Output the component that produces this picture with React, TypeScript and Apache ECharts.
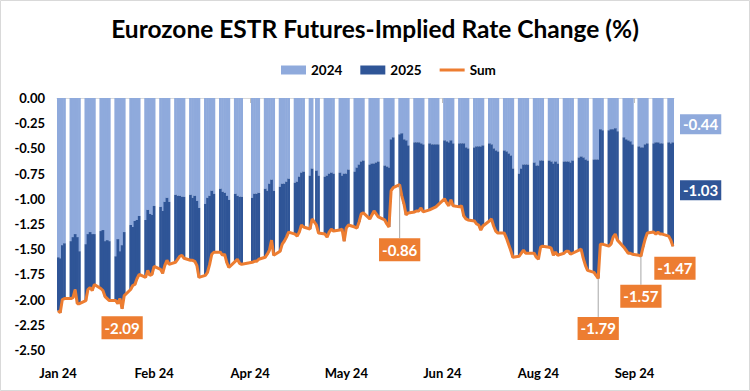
import React, { useEffect, useRef } from "react";
import * as echarts from "echarts";

// Calendar span of the date axis (trading days only carry values)
const START_DATE = "2024-01-02";
const END_DATE = "2024-10-16";
const HOLIDAYS = ["2024-03-29", "2024-04-01", "2024-05-01"];

// Tick labels, one every 45 calendar days starting at START_DATE
const X_TICK_LABELS = ["Jan 24", "Feb 24", "Apr 24", "May 24", "Jun 24", "Aug 24", "Sep 24"];
const Y_MIN = -2.5;
const Y_MAX = 0;
const Y_STEP = 0.25;

// Rate change priced for 2024, one value per trading day (in order)
const Y2024 = [
  -1.58, -1.59, -1.46, -1.44,
  -1.42, -1.38, -1.35, -1.38, -1.52,
  -1.45, -1.35, -1.33, -1.35, -1.35,
  -1.32, -1.31, -1.42, -1.41, -1.42,
  -1.57, -1.40, -1.52, -1.46, -1.33,
  -1.26, -1.28, -1.22, -1.21, -1.17,
  -1.21, -1.11, -1.15, -1.16, -1.07,
  -1.08, -1.12, -1.03, -0.99, -1.03,
  -0.96, -0.97, -0.97, -0.98, -0.98,
  -0.96, -0.99, -0.97, -1.02, -1.09,
  -1.05, -0.99, -0.97, -0.92, -0.95,
  -0.90, -0.93, -0.94, -0.97, -1.01,
  -0.95, -0.97, -0.98, -0.98,
  -0.99, -0.95, -0.95, -0.94,
  -0.90, -0.92, -0.85, -0.81, -0.92,
  -0.88, -0.85, -0.85, -0.83, -0.80,
  -0.84, -0.83, -0.78, -0.74, -0.73,
  -0.77, -0.70, -0.72, -0.77,
  -0.78, -0.77, -0.75, -0.74, -0.75,
  -0.74, -0.77, -0.75, -0.75, -0.71,
  -0.73, -0.69, -0.66, -0.63, -0.62,
  -0.66, -0.65, -0.65, -0.64, -0.63,
  -0.67, -0.68, -0.69, -0.41, -0.39,
  -0.36, -0.35, -0.41, -0.42, -0.47,
  -0.44, -0.44, -0.44, -0.45, -0.46,
  -0.45, -0.46, -0.46, -0.46, -0.46,
  -0.42, -0.43, -0.44, -0.42, -0.45,
  -0.45, -0.45, -0.45, -0.49, -0.50,
  -0.49, -0.48, -0.48, -0.48, -0.47,
  -0.45, -0.46, -0.50, -0.52, -0.53,
  -0.52, -0.53, -0.55, -0.57, -0.70,
  -0.75, -0.70, -0.66, -0.66, -0.66,
  -0.64, -0.67, -0.67, -0.62, -0.62,
  -0.62, -0.63, -0.65, -0.63, -0.65,
  -0.63, -0.63, -0.63, -0.64, -0.62,
  -0.59, -0.58, -0.59, -0.61, -0.62,
  -0.61, -0.61, -0.61, -0.31, -0.32,
  -0.32, -0.31, -0.31, -0.30, -0.33,
  -0.39, -0.41, -0.42, -0.43, -0.46,
  -0.48, -0.49, -0.49, -0.46, -0.45,
  -0.45, -0.44, -0.44, -0.45, -0.45,
  -0.44, -0.45, -0.44,
];

// Rate change priced for 2025, one value per trading day (in order)
const Y2025 = [
  -0.53, -0.54, -0.54, -0.55,
  -0.57, -0.60, -0.55, -0.66, -0.52,
  -0.56, -0.55, -0.55, -0.56, -0.50,
  -0.57, -0.60, -0.55, -0.58, -0.59,
  -0.44, -0.64, -0.47, -0.63, -0.63,
  -0.64, -0.58, -0.63, -0.58, -0.58,
  -0.57, -0.60, -0.61, -0.59, -0.60,
  -0.62, -0.62, -0.63, -0.62, -0.62,
  -0.67, -0.63, -0.60, -0.58, -0.61,
  -0.65, -0.62, -0.65, -0.64, -0.69,
  -0.71, -0.74, -0.68, -0.63, -0.58,
  -0.63, -0.63, -0.61, -0.66, -0.67,
  -0.67, -0.63, -0.66, -0.67,
  -0.64, -0.67, -0.67, -0.66,
  -0.68, -0.63, -0.66, -0.60, -0.64,
  -0.64, -0.60, -0.57, -0.55, -0.53,
  -0.51, -0.54, -0.55, -0.52, -0.55,
  -0.53, -0.50, -0.54, -0.57,
  -0.57, -0.61, -0.58, -0.56, -0.57,
  -0.57, -0.53, -0.67, -0.54, -0.55,
  -0.55, -0.60, -0.57, -0.52, -0.52,
  -0.54, -0.51, -0.47, -0.51, -0.55,
  -0.54, -0.57, -0.59, -0.51, -0.50,
  -0.50, -0.62, -0.64, -0.74, -0.67,
  -0.69, -0.68, -0.68, -0.64, -0.67,
  -0.66, -0.64, -0.63, -0.62, -0.60,
  -0.58, -0.61, -0.63, -0.59, -0.62,
  -0.63, -0.62, -0.72, -0.71, -0.71,
  -0.73, -0.77, -0.78, -0.83, -0.80,
  -0.77, -0.74, -0.77, -0.80, -0.81,
  -0.82, -0.86, -0.90, -0.94, -0.88,
  -0.82, -0.84, -0.85, -0.88, -0.88,
  -0.90, -0.91, -0.93, -0.86, -0.85,
  -0.86, -0.86, -0.91, -0.90, -0.91,
  -0.91, -0.89, -0.89, -0.91, -0.92,
  -0.92, -0.92, -1.00, -1.05, -1.09,
  -1.12, -1.15, -1.18, -1.14, -1.13,
  -1.15, -1.14, -1.07, -1.05, -1.08,
  -1.09, -1.10, -1.12, -1.11, -1.09,
  -1.08, -1.08, -0.99, -0.94, -0.89,
  -0.88, -0.91, -0.89, -0.90, -0.90,
  -0.93, -0.96, -1.03,
];

// Sum points that carry a callout label
const SUM_LABEL_DATES = ["2024-02-01", "2024-06-10", "2024-09-11", "2024-10-01", "2024-10-16"];

const C2024 = "#8FAADC";
const C2025 = "#2F5597";
const CSUM = "#ED7D31";
const FONT = "Lato";

// callout placement (dx, dy from the point to the label centre) and guide line flag
const CALLOUT_STYLE: Record<string, { dx: number; dy: number; line: boolean }> = {
  "2024-02-01": { dx: 0, dy: 19, line: false },
  "2024-06-10": { dx: 0, dy: 65, line: true },
  "2024-09-11": { dx: 0, dy: 50, line: true },
  "2024-10-01": { dx: 0, dy: 40, line: true },
  "2024-10-16": { dx: 2, dy: 22, line: false },
};

// legend glyph for the line: a 3px band inside a 25x9 box
const LINE_ICON = "path://M0,3h25v3H0z M0,0h0.01v0.01H0z M0,9h0.01v-0.01H0z";

function buildCategories() {
  const cats: string[] = [];
  const d = new Date(START_DATE + "T00:00:00Z");
  const end = new Date(END_DATE + "T00:00:00Z").getTime();
  while (d.getTime() <= end) {
    cats.push(d.toISOString().slice(0, 10));
    d.setUTCDate(d.getUTCDate() + 1);
  }
  return cats;
}

function isTradingDay(iso: string) {
  const wd = new Date(iso + "T00:00:00Z").getUTCDay();
  return wd !== 0 && wd !== 6 && HOLIDAYS.indexOf(iso) < 0;
}

export default function App() {
  const ref = useRef<HTMLDivElement>(null);

  useEffect(() => {
    if (!ref.current) return;
    const chart = echarts.init(ref.current, undefined, { renderer: "svg" });

    const cats = buildCategories();
    const d2024: any[] = [];
    const d2025: any[] = [];
    const dSum: any[] = [];
    let k = 0;
    let lastIdx = -1;
    cats.forEach((c, i) => {
      if (isTradingDay(c) && k < Y2024.length) {
        d2024.push(Y2024[k]);
        d2025.push(Y2025[k]);
        dSum.push(Math.round((Y2024[k] + Y2025[k]) * 100) / 100);
        lastIdx = i;
        k++;
      } else {
        d2024.push(null);
        d2025.push(null);
        dSum.push(null);
      }
    });

    const endLabel = (bg: string, offY: number) => ({
      show: true,
      position: "right",
      distance: 6,
      offset: [0, offY],
      formatter: (p: any) => Number(p.value).toFixed(2),
      backgroundColor: bg,
      color: "#fff",
      fontFamily: FONT,
      fontWeight: "bold",
      fontSize: 15,
      padding: [3, 3, 2, 3],
    });

    if (lastIdx >= 0) {
      d2024[lastIdx] = { value: d2024[lastIdx], label: endLabel(C2024, 4) };
      d2025[lastIdx] = { value: d2025[lastIdx], label: endLabel(C2025, -4) };
    }

    SUM_LABEL_DATES.forEach((dt) => {
      const i = cats.indexOf(dt);
      if (i < 0 || dSum[i] == null) return;
      const st = CALLOUT_STYLE[dt];
      dSum[i] = {
        value: dSum[i],
        symbol: "circle",
        symbolSize: 1,
        label: {
          show: true,
          position: "inside",
          formatter: (p: any) => Number(p.value).toFixed(2),
          backgroundColor: CSUM,
          color: "#fff",
          fontFamily: FONT,
          fontWeight: "bold",
          fontSize: 15,
          padding: [4, 3, 4, 3],
        },
        labelLine: { show: st ? st.line : false },
      };
    });

    const option: any = {
      animation: false,
      backgroundColor: "#fff",
      textStyle: { fontFamily: FONT },
      graphic: [
        {
          type: "rect",
          shape: { x: 0.5, y: 0.5, width: 749, height: 390 },
          style: { fill: "none", stroke: "#D9D9D9", lineWidth: 1 },
          silent: true,
        },
      ],
      title: {
        text: "Eurozone ESTR Futures-Implied Rate Change (%)",
        left: "center",
        top: 11,
        textStyle: { fontFamily: FONT, fontWeight: "bold", fontSize: 24.5, color: "#000" },
      },
      legend: {
        top: 58,
        left: 276,
        itemWidth: 25,
        itemHeight: 9,
        itemGap: 18,
        textStyle: { fontFamily: FONT, fontWeight: "bold", fontSize: 13.5, color: "#000" },
        data: [
          { name: "2024", icon: "rect" },
          { name: "2025", icon: "rect" },
          { name: "Sum", icon: LINE_ICON },
        ],
      },
      grid: { left: 57, right: 76, top: 98, bottom: 41 },
      xAxis: [
        {
          type: "category",
          data: cats,
          position: "bottom",
          axisLine: { show: false },
          axisTick: { show: false },
          axisLabel: {
            interval: 44,
            margin: 16,
            fontFamily: FONT,
            fontWeight: "bold",
            fontSize: 13,
            color: "#000",
            formatter: (_v: string, idx: number) => X_TICK_LABELS[idx / 45] || "",
          },
        },
        {
          type: "category",
          data: cats,
          position: "top",
          axisLine: { show: true, lineStyle: { color: "#D9D9D9", width: 1 } },
          axisTick: {
            show: true,
            inside: true,
            interval: 44,
            alignWithLabel: true,
            length: 5,
            lineStyle: { color: "#BFBFBF" },
          },
          axisLabel: { show: false },
        },
      ],
      yAxis: {
        type: "value",
        min: Y_MIN,
        max: Y_MAX,
        interval: Y_STEP,
        splitLine: { show: false },
        axisLine: { show: false },
        axisTick: { show: false },
        axisLabel: {
          margin: 12,
          fontFamily: FONT,
          fontWeight: "bold",
          fontSize: 13,
          color: "#000",
          formatter: (v: number) => (Math.abs(v) < 1e-9 ? "0.00" : v.toFixed(2)),
        },
      },
      series: [
        {
          name: "2024",
          type: "bar",
          stack: "total",
          barWidth: 2.7,
          itemStyle: { color: C2024 },
          data: d2024,
        },
        {
          name: "2025",
          type: "bar",
          stack: "total",
          barWidth: 2.7,
          itemStyle: { color: C2025 },
          data: d2025,
        },
        {
          name: "Sum",
          type: "line",
          data: dSum,
          connectNulls: true,
          symbol: "none",
          showSymbol: true,
          showAllSymbol: true,
          lineStyle: { color: CSUM, width: 3 },
          itemStyle: { color: CSUM },
          labelLine: { show: true, lineStyle: { color: "#A6A6A6", width: 1 } },
          labelLayout: (params: any) => {
            const st = CALLOUT_STYLE[cats[params.dataIndex]];
            return st ? { dx: st.dx, dy: st.dy } : {};
          },
          z: 5,
        },
      ],
    };

    chart.setOption(option);
    return () => chart.dispose();
  }, []);

  return (
    <div
      ref={ref}
      style={{ position: "absolute", left: 0, top: 0, width: 750, height: 391, background: "#fff" }}
    />
  );
}
